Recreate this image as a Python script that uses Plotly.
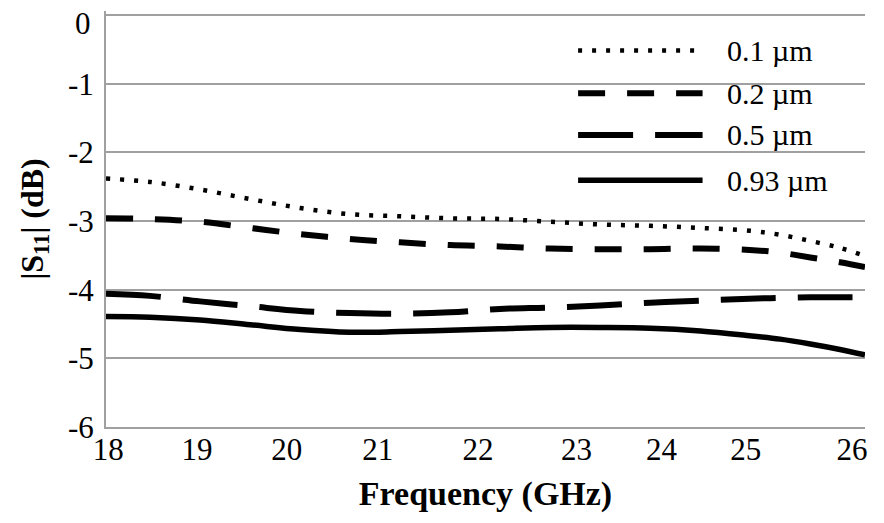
import plotly.graph_objects as go

# position along the sweep (0 = 18 GHz edge, 100 = right end of plot)
sweep_pos = [0, 5.8, 12.4, 19.0, 25.6, 32.1, 38.7, 45.3, 51.9, 58.5,
             65.1, 71.7, 78.3, 84.8, 88.8, 92.8, 96.7, 100]

s11_01 = [-2.38, -2.43, -2.54, -2.68, -2.81, -2.90, -2.93, -2.96, -2.97, -3.01,
          -3.05, -3.07, -3.10, -3.14, -3.20, -3.29, -3.39, -3.51]
s11_02 = [-2.96, -2.97, -3.01, -3.10, -3.19, -3.26, -3.31, -3.35, -3.37, -3.40,
          -3.41, -3.41, -3.40, -3.42, -3.46, -3.53, -3.60, -3.67]
s11_05 = [-4.06, -4.09, -4.17, -4.24, -4.31, -4.34, -4.35, -4.33, -4.28, -4.26,
          -4.23, -4.19, -4.16, -4.13, -4.12, -4.11, -4.11, -4.11]
s11_093 = [-4.39, -4.40, -4.44, -4.51, -4.58, -4.62, -4.61, -4.59, -4.57, -4.55,
           -4.55, -4.56, -4.60, -4.67, -4.72, -4.79, -4.87, -4.95]

freq_tick_pos = [0.3, 12.0, 23.8, 35.8, 49.0, 62.0, 73.2, 84.3, 98.3]
freq_tick_labels = ["18", "19", "20", "21", "22", "23", "24", "25", "26"]
db_ticks = [0, -1, -2, -3, -4, -5, -6]
db_tick_labels = ["0", "-1", "-2", "-3", "-4", "-5", "-6"]

names = ["0.1 \u00b5m", "0.2 \u00b5m", "0.5 \u00b5m", "0.93 \u00b5m"]
series = [s11_01, s11_02, s11_05, s11_093]
styles = [
    dict(width=4.5, dash="4px,10px"),
    dict(width=6, dash="27px,22px"),
    dict(width=6, dash="55px,22px"),
    dict(width=5.5, dash="solid"),
]

GRID = "#a0a0a0"
FONT = "Liberation Serif, Times New Roman, serif"

fig = go.Figure()
for name, ys, st in zip(names, series, styles):
    fig.add_trace(
        go.Scatter(
            x=sweep_pos,
            y=ys,
            name=name,
            mode="lines",
            line=dict(color="black", shape="spline", **st),
        )
    )

# hand-drawn legend with long line samples, like the original
legend_rows = [0.905, 0.802, 0.702, 0.593]
for name, st, yr in zip(names, styles, legend_rows):
    fig.add_shape(
        type="line", xref="paper", yref="paper",
        x0=0.622, x1=0.786, y0=yr, y1=yr,
        line=dict(color="black", **st),
    )
    fig.add_annotation(
        xref="paper", yref="paper", x=0.815, y=yr,
        text=name, showarrow=False, xanchor="left", yanchor="middle",
        font=dict(family=FONT, size=30, color="black"),
    )

# top tick label sits a little below its gridline (as in the original)
fig.add_annotation(
    xref="paper", yref="y", x=-0.017, y=db_ticks[0], yshift=-8,
    text=db_tick_labels[0], showarrow=False,
    xanchor="right", yanchor="middle",
    font=dict(family=FONT, size=31, color="black"),
)

fig.update_layout(
    width=884,
    height=523,
    margin=dict(l=106, r=19, t=11, b=96),
    plot_bgcolor="white",
    paper_bgcolor="white",
    showlegend=False,
    font=dict(family=FONT, size=31, color="black"),
)
fig.update_xaxes(
    range=[0, 100],
    tickvals=freq_tick_pos,
    ticktext=freq_tick_labels,
    automargin=False,
    showgrid=False,
    zeroline=False,
    showline=True,
    linecolor=GRID,
    linewidth=2,
    ticks="",
    ticklabelstandoff=-6,
    ticklabeloverflow="allow",
    tickfont=dict(family=FONT, size=31),
    title=dict(
        text="<b>Frequency (GHz)</b>",
        font=dict(family=FONT, size=34),
    ),
)
fig.update_yaxes(
    range=[-6, 0.06],
    tickvals=db_ticks,
    ticktext=[""] + db_tick_labels[1:],
    automargin=False,
    showgrid=True,
    gridcolor=GRID,
    gridwidth=2,
    zeroline=False,
    showline=True,
    linecolor=GRID,
    linewidth=2,
    ticks="outside",
    ticklen=4,
    tickcolor="white",
    ticklabeloverflow="allow",
    tickfont=dict(family=FONT, size=31),
    title=dict(
        text="<b>|S<sub>11</sub>| (dB)</b>",
        font=dict(family=FONT, size=32),
    ),
)

fig.write_html(
    "out.html",
    config={"displayModeBar": False},
    post_script="document.body.style.margin='0';",
)
